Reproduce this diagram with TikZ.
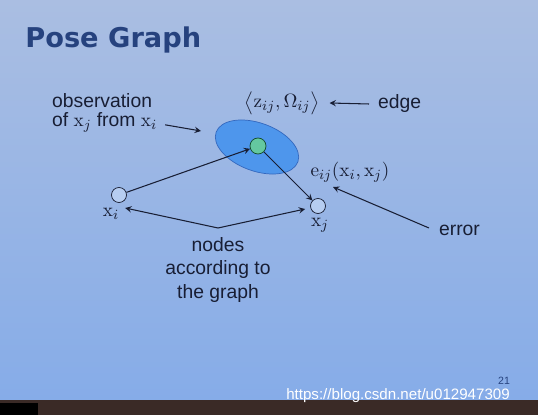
\documentclass[tikz,border=0pt]{standalone}
\usepackage{amsmath}
\usepackage{amssymb}
\usepackage[no-math]{fontspec}
\usepackage{xcolor}
\usepackage{tikz}
\usetikzlibrary{positioning, calc, arrows.meta}
\newfontfamily\slidefont{Liberation Sans}
\newfontfamily\titlefont{DejaVu Sans}
\definecolor{slideTop}{RGB}{170,190,226}
\definecolor{slideBot}{RGB}{134,172,232}
\definecolor{titleColor}{RGB}{38,66,126}
\definecolor{inkColor}{RGB}{24,30,52}
\definecolor{covColor}{RGB}{78,150,236}
\definecolor{covEdge}{RGB}{52,104,190}
\definecolor{obsColor}{RGB}{100,200,160}
\definecolor{bezelColor}{RGB}{58,42,38}
\tikzset{
    pose/.style={
        circle,
        draw=inkColor,
        fill=slideBot!60!white,
        minimum size=0.3cm,
        inner sep=0pt
    },
    obsnode/.style={
        circle,
        draw=inkColor!80!green,
        fill=obsColor,
        minimum size=0.32cm,
        inner sep=0pt
    },
    txt/.style={
        text=inkColor,
        font=\slidefont\fontsize{11}{13.2}\selectfont,
        inner sep=1pt
    },
    ptr/.style={
        ->,
        >=stealth,
        semithick,
        draw=inkColor
    }
}

\begin{document}
\begin{tikzpicture}[x=0.02cm, y=-0.02cm]
    \useasboundingbox (0,0) rectangle (538,415);
    % slide and screen bezel
    \shade[top color=slideTop, bottom color=slideBot] (0,0) rectangle (538,400);
    \fill[bezelColor] (0,400) rectangle (538,415);
    \fill[black] (0,403) rectangle (38,415);

    \node[anchor=base west, text=titleColor, font=\titlefont\bfseries\fontsize{15.5}{18}\selectfont, inner sep=0pt] (title) at (25,48) {Pose Graph};

    % covariance ellipse round the measurement
    \coordinate (zc) at (257,147);
    \filldraw[fill=covColor, draw=covEdge, rotate around={-20:(zc)}] (zc) ellipse [x radius=0.87cm, y radius=0.48cm];

    \node[obsnode] (zij) at (258,146) {};
    \node[pose] (xi) at (119,195) {};
    \node[pose] (xj) at (318,206) {};
    \node[txt] (xilab) at (111,214) {$\mathrm{x}_i$};
    \node[txt] (xjlab) at (320,225) {$\mathrm{x}_j$};

    \draw[ptr] (xi) -- (zij);
    \draw[ptr] (zij) -- (xj);

    % edge
    \node[txt] (edgez) at (282,103) {$\big\langle \mathrm{z}_{ij},\Omega_{ij}\big\rangle$};
    \node[txt, anchor=west] (edge) at (376,104) {edge};
    \coordinate (edgeStart) at ($(edge.west)+(-7,0)$);
    \draw[ptr] (edgeStart) -- ($(edgez.east)+(8,0)$);

    % observation
    \node[txt, anchor=base west] (obs1) at (50,108) {observation};
    \node[txt, anchor=base west] (obs2) at (50,127) {of $\mathrm{x}_j$ from $\mathrm{x}_i$};
    \coordinate (obsTip) at (201,131);
    \draw[ptr] ($(obs2.east)+(6,2)$) -- (obsTip);

    % error
    \node[txt] (eij) at (350,172) {$\mathrm{e}_{ij}(\mathrm{x}_i,\mathrm{x}_j)$};
    \node[txt, anchor=west] (error) at (437,230) {error};
    \coordinate (errTip) at (333,187);
    \draw[ptr] ($(error.west)+(-8,-2)$) -- (errTip);

    % nodes
    \node[txt, align=center] (nodes) at (218,270) {nodes\\according to\\the graph};
    \coordinate (fork) at (218,228);
    \draw[ptr] (fork) -- ($(xilab.east)+(4,-6)$);
    \draw[ptr] (fork) -- ($(xj.west)+(-5,3)$);

    % page number and overlay
    \node[text=titleColor, font=\slidefont\fontsize{6}{7}\selectfont, inner sep=0pt] (page) at (504,381) {21};
    \node[text=white, font=\slidefont\fontsize{8.6}{10}\selectfont, inner sep=0pt] (url) at (398,396) {https://blog.csdn.net/u012947309};
\end{tikzpicture}
\end{document}
